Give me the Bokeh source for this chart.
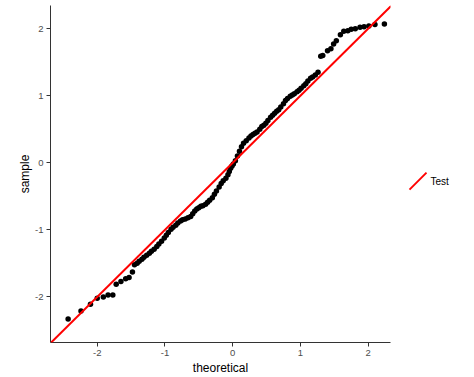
from bokeh.plotting import figure
from bokeh.layouts import row
from bokeh.models import Range1d, FixedTicker, Slope
from bokeh.core.properties import value
from bokeh.embed import file_html
from bokeh.resources import INLINE

# ---- data ----
theoretical = [
    -2.43, -2.24, -2.10, -2.00, -1.91, -1.84, -1.77, -1.72, -1.65, -1.58, -1.53, -1.48,
    -1.45, -1.41, -1.38, -1.34, -1.31, -1.27, -1.23, -1.20, -1.16, -1.12, -1.09, -1.05,
    -1.01, -0.98, -0.95, -0.91, -0.88, -0.84, -0.81, -0.77, -0.74, -0.70, -0.66, -0.62,
    -0.59, -0.56, -0.53, -0.50, -0.47, -0.44, -0.40, -0.37, -0.34, -0.30, -0.27, -0.24,
    -0.20, -0.17, -0.14, -0.10, -0.07, -0.05, -0.03, -0.01,
    0.01, 0.04, 0.07, 0.10, 0.13, 0.16, 0.20, 0.24, 0.27, 0.30, 0.33, 0.36, 0.40, 0.43,
    0.46, 0.49, 0.52, 0.56, 0.59, 0.62, 0.65, 0.68, 0.71, 0.75, 0.78, 0.81, 0.85, 0.88,
    0.91, 0.95, 0.98, 1.01, 1.05, 1.08, 1.11, 1.15, 1.18, 1.22, 1.26,
    1.30, 1.33, 1.40, 1.45, 1.49, 1.53, 1.59, 1.64, 1.70, 1.75, 1.81, 1.88, 1.94, 2.01,
    2.10, 2.24,
]
sample = [
    -2.33, -2.21, -2.11, -2.02, -2.00, -1.97, -1.97, -1.81, -1.77, -1.73, -1.71, -1.63,
    -1.52, -1.50, -1.47, -1.44, -1.41, -1.38, -1.35, -1.32, -1.29, -1.25, -1.21, -1.17,
    -1.12, -1.08, -1.04, -0.99, -0.96, -0.93, -0.90, -0.87, -0.85, -0.84, -0.82, -0.80,
    -0.76, -0.72, -0.69, -0.67, -0.65, -0.64, -0.62, -0.59, -0.56, -0.52, -0.47, -0.42,
    -0.36, -0.31, -0.27, -0.23, -0.18, -0.13, -0.08, -0.05,
    -0.02, 0.03, 0.10, 0.17, 0.24, 0.29, 0.33, 0.37, 0.40, 0.42, 0.44, 0.46, 0.50, 0.54,
    0.56, 0.59, 0.63, 0.68, 0.71, 0.74, 0.77, 0.79, 0.83, 0.88, 0.93, 0.96, 0.99, 1.01,
    1.03, 1.06, 1.08, 1.11, 1.15, 1.18, 1.22, 1.26, 1.28, 1.31, 1.35,
    1.59, 1.60, 1.67, 1.70, 1.77, 1.82, 1.91, 1.96, 1.97, 1.99, 2.00, 2.02, 2.03, 2.04,
    2.06, 2.07,
]
tick_values = [-2, -1, 0, 1, 2]
tick_labels = ["-2", "-1", "0", "1", "2"]
line_slope = 1.0
line_intercept = 0.0
legend_labels = ["Test"]
x_title = "theoretical"
y_title = "sample"

FONT = "Liberation Sans"

p = figure(
    width=400, height=377,
    output_backend="svg", toolbar_location=None,
    x_range=Range1d(-2.69, 2.33), y_range=Range1d(-2.68, 2.345),
    min_border_left=50, min_border_right=10, min_border_top=5, min_border_bottom=33,
)
p.outline_line_color = None
p.xgrid.visible = False
p.ygrid.visible = False
p.background_fill_color = "white"
p.border_fill_color = "white"

p.scatter(theoretical, sample, size=5.5, color="black", line_color=None)

p.add_layout(Slope(gradient=line_slope, y_intercept=line_intercept,
                   line_color="#FF0000", line_width=2))

for ax, title in ((p.xaxis, x_title), (p.yaxis, y_title)):
    ax.ticker = FixedTicker(ticks=tick_values)
    ax.major_label_overrides = {v: s for v, s in zip(tick_values, tick_labels)}
    ax.axis_label = title
    ax.axis_label_text_font = FONT
    ax.axis_label_text_font_style = "normal"
    ax.axis_label_text_font_size = "12px"
    ax.axis_label_text_color = "black"
    ax.major_label_text_font = FONT
    ax.major_label_text_font_size = "9.5px"
    ax.major_label_text_color = "#4D4D4D"
    ax.axis_line_color = "#333333"
    ax.axis_line_width = 1
    ax.major_tick_line_color = "#333333"
    ax.major_tick_out = 4
    ax.major_tick_in = 0
    ax.minor_tick_line_color = None
    ax.major_label_standoff = 3
    ax.axis_label_standoff = 2
p.yaxis.axis_label_standoff = 0

# ---- legend panel (ggplot-style diagonal key), pixel-unit ranges ----
leg = figure(
    width=74, height=377, output_backend="svg", toolbar_location=None,
    x_axis_location=None, y_axis_location=None, title=None,
    x_range=Range1d(0, 74), y_range=Range1d(377, 0),
    min_border=0, min_border_left=0, min_border_right=0, min_border_top=0, min_border_bottom=0,
)
leg.grid.visible = False
leg.outline_line_color = None
leg.background_fill_color = "white"
leg.border_fill_color = "white"
key_x = [9, 26]
key_y = [206, 187]
leg.line(key_x, key_y, line_color="#FF0000", line_width=2)
leg.text(x=[30], y=[197], text=legend_labels, text_font=value(FONT),
         text_font_size="10px", text_color="black", text_baseline="middle")

layout = row(p, leg)
open("out.html", "w").write(file_html(layout, INLINE))
